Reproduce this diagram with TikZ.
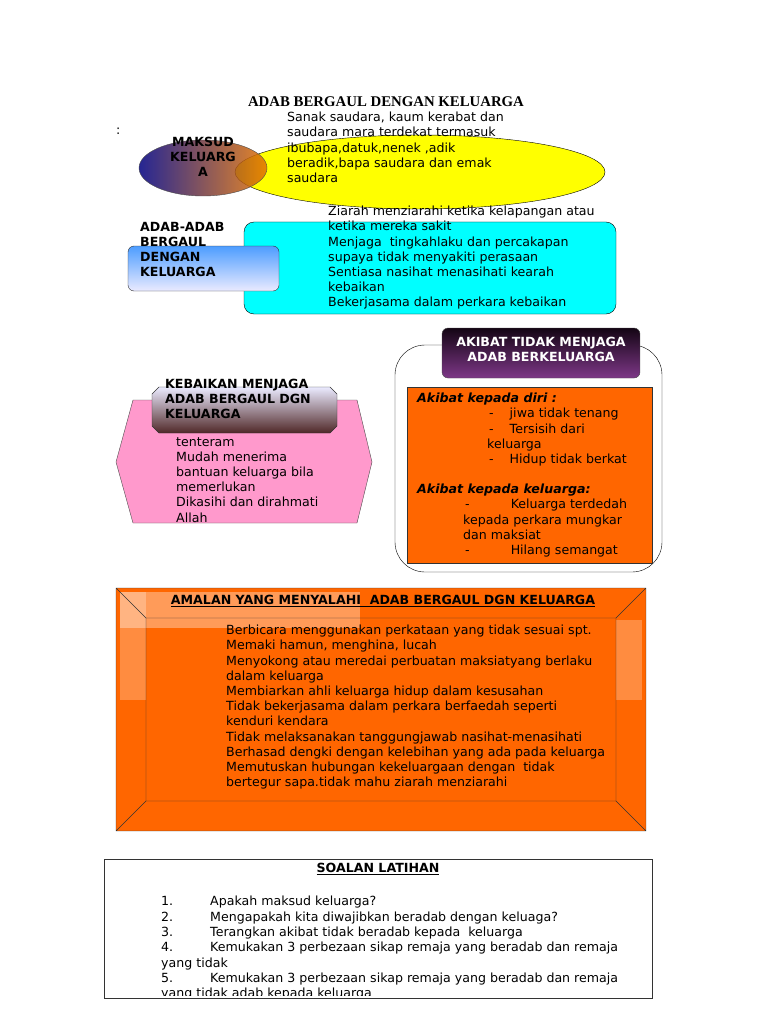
\documentclass[tikz,border=0pt]{standalone}
\usepackage{fontspec}
\setmainfont{DejaVu Sans}
\newfontfamily\titlefont{Liberation Serif}
\usetikzlibrary{shapes.geometric}
\definecolor{orng}{HTML}{FF6600}
\definecolor{pinkf}{HTML}{FF99CC}
\definecolor{cyanf}{HTML}{00FFFF}
\definecolor{yelf}{HTML}{FFFF00}
\definecolor{hdrdark}{HTML}{502828}
\definecolor{purtop}{HTML}{140514}
\definecolor{purbot}{HTML}{7D3787}
\begin{document}
\begin{tikzpicture}[x=1pt,y=-1pt,
  txt/.style={anchor=north west,align=left,inner sep=0pt,font=\fontsize{12.6}{15.2}\selectfont},
  btxt/.style={txt,font=\fontsize{12.6}{15.2}\selectfont\bfseries}]
\useasboundingbox (0,0) rectangle (768,1024);
\fill[white] (0,0) rectangle (768,1024);
\node[font=\titlefont\bfseries\fontsize{14.8}{16}\selectfont] (title) at (386,102) {ADAB BERGAUL DENGAN KELUARGA};
\node[txt] (colon) at (116,128) {:};
% maksud
\draw[fill=yelf] (420,172) ellipse (185 and 37);
\shade[left color=blue!50!black, right color=orange!90!black, opacity=0.85] (203,168) ellipse (64 and 28);
\draw[black!70] (203,168) ellipse (64 and 28);
\node[btxt,align=center,anchor=north] (mk) at (203,137) {MAKSUD\\KELUARG\\A};
\node[txt] (mkt) at (287,112) {Sanak saudara, kaum kerabat dan\\saudara mara terdekat termasuk\\ibubapa,datuk,nenek ,adik\\beradik,bapa saudara dan emak\\saudara};
% adab
\draw[fill=cyanf,rounded corners=10] (244,222) rectangle (616,314);
\shade[top color=blue!55!cyan!70, bottom color=blue!8,rounded corners=6] (128,246) rectangle (279,291);
\draw[black!80,rounded corners=6] (128,246) rectangle (279,291);
\node[btxt] (ad) at (140,222) {ADAB-ADAB\\BERGAUL\\DENGAN\\KELUARGA};
\node[txt] (adt) at (328,206) {Ziarah menziarahi ketika kelapangan atau\\ketika mereka sakit\\Menjaga\ \ tingkahlaku dan percakapan\\supaya tidak menyakiti perasaan\\Sentiasa nasihat menasihati kearah\\kebaikan\\Bekerjasama dalam perkara kebaikan};
% kebaikan
\draw[fill=pinkf,draw=black!70] (133,400)--(357,400)--(372,462)--(357,523)--(133,523)--(116,462)--cycle;
\node[txt] (kbt) at (176,437) {tenteram\\Mudah menerima\\bantuan keluarga bila\\memerlukan\\Dikasihi dan dirahmati\\Allah};
\shade[top color=blue!8, bottom color=hdrdark] (159,387)--(330,387)--(337,394)--(337,426)--(330,433)--(159,433)--(152,426)--(152,394)--cycle;
\draw[black!80] (159,387)--(330,387)--(337,394)--(337,426)--(330,433)--(159,433)--(152,426)--(152,394)--cycle;
\node[btxt] (kb) at (165,379) {KEBAIKAN MENJAGA\\ADAB BERGAUL DGN\\KELUARGA};
% akibat
\draw[rounded corners=30] (395,345) rectangle (662,572);
\fill[orng] (407,387) rectangle (652,563);
\draw[black!80] (407,387) rectangle (652,563);
\shade[top color=purtop, bottom color=purbot,rounded corners=6] (442,328) rectangle (640,378);
\draw[black!70,rounded corners=6] (442,328) rectangle (640,378);
\node[btxt,text=white,align=center,anchor=north] (ak) at (541,337) {AKIBAT TIDAK MENJAGA\\ADAB BERKELUARGA};
\node[txt] (akt) at (417,393) {\textbf{\textit{Akibat kepada diri :}}\\
\hspace*{72pt}-\hspace*{16pt}jiwa tidak tenang\\
\hspace*{72pt}-\hspace*{16pt}Tersisih dari\\
\hspace*{70pt}keluarga\\
\hspace*{72pt}-\hspace*{16pt}Hidup tidak berkat\\[15pt]
\textbf{\textit{Akibat kepada keluarga:}}\\
\hspace*{48pt}-\hspace*{41pt}Keluarga terdedah\\
\hspace*{46pt}kepada perkara mungkar\\
\hspace*{46pt}dan maksiat\\
\hspace*{48pt}-\hspace*{41pt}Hilang semangat};
% amalan
\fill[orng] (116,588) rectangle (646,831);
\fill[white,opacity=0.35] (120,592) rectangle (360,628);
\fill[white,opacity=0.25] (120,592) rectangle (146,700);
\fill[white,opacity=0.25] (616,620) rectangle (642,700);
\draw[black!80] (116,588) rectangle (646,831) (146,618) rectangle (616,801)
  (116,588)--(146,618) (646,588)--(616,618) (116,831)--(146,801) (646,831)--(616,801);
\node[btxt,anchor=north] (am) at (383,595) {\underline{AMALAN YANG MENYALAHI\ \ ADAB BERGAUL DGN KELUARGA}};
\node[txt] (amt) at (226,625) {Berbicara menggunakan perkataan yang tidak sesuai spt.\\Memaki hamun, menghina, lucah\\Menyokong atau meredai perbuatan maksiatyang berlaku\\dalam keluarga\\Membiarkan ahli keluarga hidup dalam kesusahan\\Tidak bekerjasama dalam perkara berfaedah seperti\\kenduri kendara\\Tidak melaksanakan tanggungjawab nasihat-menasihati\\Berhasad dengki dengan kelebihan yang ada pada keluarga\\Memutuskan hubungan kekeluargaan dengan\ \ tidak\\bertegur sapa.tidak mahu ziarah menziarahi};
% soalan
\draw[black!80] (104,859) rectangle (652,998);
\node[btxt,anchor=north] (so) at (378,863) {\underline{SOALAN LATIHAN}};
\begin{scope}
\clip (104,859) rectangle (652,995);
\node[txt] (sot) at (161,896) {1.\hspace*{37pt}Apakah maksud keluarga?\\[0.5pt]
2.\hspace*{37pt}Mengapakah kita diwajibkan beradab dengan keluaga?\\
3.\hspace*{37pt}Terangkan akibat tidak beradab kepada\ \ keluarga\\
4.\hspace*{37pt}Kemukakan 3 perbezaan sikap remaja yang beradab dan remaja\\
yang tidak\\
5.\hspace*{37pt}Kemukakan 3 perbezaan sikap remaja yang beradab dan remaja\\
yang tidak adab kepada keluarga};
\end{scope}
\end{tikzpicture}
\end{document}
